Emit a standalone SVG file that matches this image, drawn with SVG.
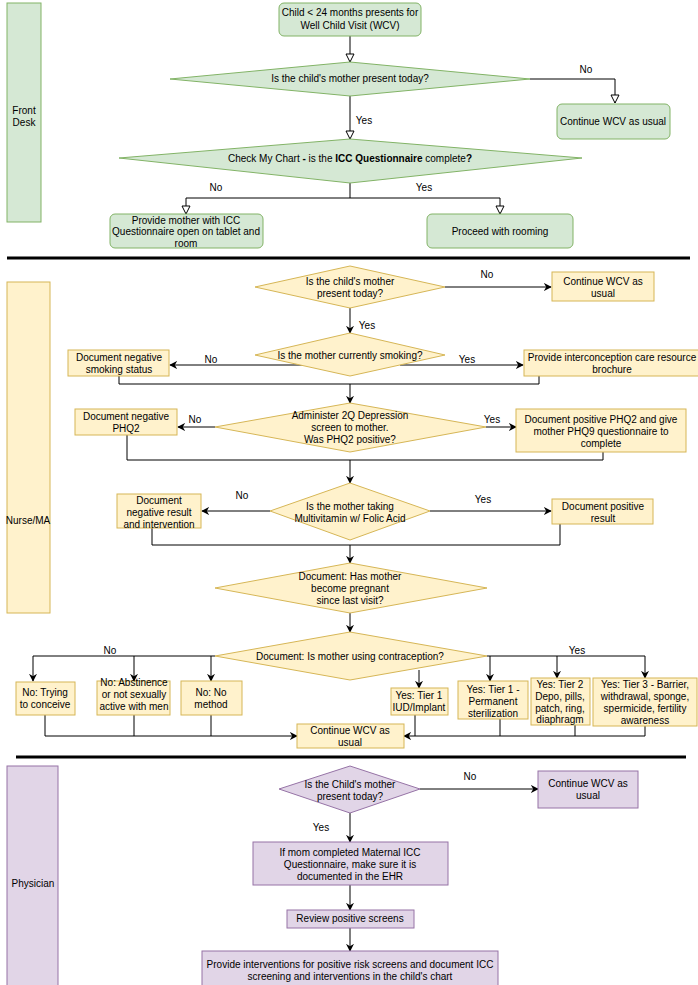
<svg xmlns="http://www.w3.org/2000/svg" width="698" height="985" viewBox="0 0 698 985">
<style>
text{font-family:"Liberation Sans",Arial,sans-serif;font-size:10px;fill:#000;text-anchor:middle}
.g{fill:#d5e8d4;stroke:#82b366}
.y{fill:#fff2cc;stroke:#d6b656}
.p{fill:#e1d5e7;stroke:#9673a6}
.c{fill:none;stroke:#000;stroke-width:1}
.o{marker-end:url(#open)}
.f{marker-end:url(#fill)}
.sep{stroke:#000;stroke-width:3}
</style>
<defs>
<marker id="open" viewBox="0 0 10 10" refX="9" refY="5" markerWidth="10" markerHeight="10" markerUnits="userSpaceOnUse" orient="auto"><path d="M1,1 L9,5 L1,9 Z" fill="#fff" stroke="#000"/></marker>
<marker id="fill" viewBox="0 0 10 10" refX="9" refY="5" markerWidth="8" markerHeight="8" markerUnits="userSpaceOnUse" orient="auto"><path d="M0,0 L10,5 L0,10 L3,5 Z" fill="#000"/></marker>
</defs>
<rect width="698" height="985" fill="#fff"/>
<g id="lanes">
<g id="lane-front"><rect class="g" x="7" y="3" width="34" height="219"/><text x="24" y="114">Front</text><text x="24" y="126">Desk</text></g>
<g id="lane-nurse"><rect class="y" x="7" y="282" width="43" height="331"/><text x="28" y="524">Nurse/MA</text></g>
<g id="lane-phys"><rect class="p" x="7" y="766" width="51" height="222"/><text x="33" y="887">Physician</text></g>
<line class="sep" x1="7" y1="258" x2="690" y2="258"/>
<line class="sep" x1="16" y1="757" x2="686" y2="757"/>
</g>
<g id="connectors">
<path class="c o" d="M350,36 V62"/>
<path class="c o" d="M530,79 H615 V103"/><text x="586" y="73">No</text>
<path class="c o" d="M350,96 V139"/><text x="364" y="124">Yes</text>
<path class="c o" d="M350,183 V198 H186 V214"/><path class="c o" d="M350,198 H500 V214"/>
<text x="216" y="191">No</text><text x="424" y="191">Yes</text>
<path class="c f" d="M445,287 H551"/><text x="487" y="278">No</text>
<path class="c f" d="M350,308 V333"/><text x="367" y="329">Yes</text>
<path class="c f" d="M303,365 H170"/><text x="211" y="363">No</text>
<path class="c f" d="M400,365 H523"/><text x="467" y="363">Yes</text>
<path class="c" d="M119,376 V384 H539 V376"/><path class="c f" d="M350,384 V403"/>
<path class="c f" d="M215,427 H178"/><text x="195" y="423">No</text>
<path class="c f" d="M486,427 H516"/><text x="492" y="423">Yes</text>
<path class="c" d="M127,435 V460 H603 V452"/><path class="c f" d="M350,460 V483"/>
<path class="c f" d="M270,511 H202"/><text x="242" y="499">No</text>
<path class="c f" d="M430,511 H551"/><text x="483" y="503">Yes</text>
<path class="c" d="M152,528 V545 H560 V524"/><path class="c f" d="M350,545 V563"/>
<path class="c f" d="M350,613 V632"/>
<path class="c" d="M215,656 H33"/><path class="c f" d="M33,656 V681"/><path class="c f" d="M134,656 V681"/><path class="c f" d="M211,656 V681"/>
<text x="110" y="654">No</text>
<path class="c" d="M487,656 H645"/><path class="c f" d="M490,656 V681"/><path class="c f" d="M557,656 V678"/><path class="c f" d="M645,656 V678"/>
<text x="577" y="654">Yes</text>
<path class="c f" d="M419,670 V688"/>
<path class="c" d="M45,715 V736 H211 V715 M134,715 V736"/><path class="c f" d="M211,736 H297"/>
<path class="c" d="M415,715 V736 H645 V726 M500,719 V736 M575,725 V736"/><path class="c f" d="M415,736 H404"/>
<path class="c f" d="M420,789 H538"/><text x="470" y="780">No</text>
<path class="c f" d="M350,813 V842"/><text x="321" y="831">Yes</text>
<path class="c f" d="M350,885 V910"/>
<path class="c f" d="M350,928 V951"/>
</g>
<g id="n1"><rect class="g" x="279" y="3" width="142" height="33" rx="5"/><text x="350" y="16">Child &lt; 24 months presents for</text><text x="350" y="29">Well Child Visit (WCV)</text></g>
<g id="n2"><path class="g" d="M170,79 L350,62 L530,79 L350,96 Z"/><text x="350" y="82">Is the child's mother present today?</text></g>
<g id="n3"><rect class="g" x="557" y="104" width="113" height="35" rx="5"/><text x="613" y="125">Continue WCV as usual</text></g>
<g id="n4"><path class="g" d="M119,158 L350,139 L582,158 L350,183 Z"/><text x="350" y="162">Check My Chart <tspan font-weight="bold">-</tspan> is the <tspan font-weight="bold">ICC Questionnaire</tspan> complete<tspan font-weight="bold">?</tspan></text></g>
<g id="n5"><rect class="g" x="110" y="214" width="153" height="34" rx="5"/><text x="186" y="224">Provide mother with ICC</text><text x="186" y="235">Questionnaire open on tablet and</text><text x="186" y="247">room</text></g>
<g id="n6"><rect class="g" x="427" y="214" width="146" height="34" rx="5"/><text x="500" y="235">Proceed with rooming</text></g>
<g id="m1"><path class="y" d="M255,287 L350,266 L445,287 L350,308 Z"/><text x="350" y="285">Is the child's mother</text><text x="350" y="297">present today?</text></g>
<g id="m2"><rect class="y" x="552" y="272" width="102" height="29"/><text x="603" y="285">Continue WCV as</text><text x="603" y="297">usual</text></g>
<g id="m3"><path class="y" d="M255,355 L350,333 L445,355 L350,376 Z"/><text x="350" y="359">Is the mother currently smoking?</text></g>
<g id="m4"><rect class="y" x="68" y="350" width="101" height="26"/><text x="119" y="361">Document negative</text><text x="119" y="373">smoking status</text></g>
<g id="m5"><rect class="y" x="524" y="350" width="176" height="26"/><text x="612" y="361">Provide interconception care resource</text><text x="612" y="373">brochure</text></g>
<g id="m6"><path class="y" d="M215,427 L350,403 L486,427 L350,452 Z"/><text x="350" y="419">Administer 2Q Depression</text><text x="350" y="431">screen to mother.</text><text x="350" y="443">Was PHQ2 positive?</text></g>
<g id="m7"><rect class="y" x="75" y="409" width="102" height="26"/><text x="126" y="420">Document negative</text><text x="126" y="432">PHQ2</text></g>
<g id="m8"><rect class="y" x="516" y="409" width="170" height="43"/><text x="601" y="423">Document positive PHQ2 and give</text><text x="601" y="435">mother PHQ9 questionnaire to</text><text x="601" y="447">complete</text></g>
<g id="m9"><path class="y" d="M270,511 L350,483 L430,511 L350,540 Z"/><text x="350" y="510">Is the mother taking</text><text x="350" y="522">Multivitamin w/ Folic Acid</text></g>
<g id="m10"><rect class="y" x="117" y="494" width="84" height="34"/><text x="159" y="504">Document</text><text x="159" y="516">negative result</text><text x="159" y="528">and intervention</text></g>
<g id="m11"><rect class="y" x="552" y="499" width="101" height="25"/><text x="603" y="510">Document positive</text><text x="603" y="522">result</text></g>
<g id="m12"><path class="y" d="M215,588 L350,563 L487,588 L350,613 Z"/><text x="350" y="580">Document: Has mother</text><text x="350" y="592">become pregnant</text><text x="350" y="604">since last visit?</text></g>
<g id="m13"><path class="y" d="M215,656 L350,632 L487,656 L350,680 Z"/><text x="350" y="660">Document: Is mother using contraception?</text></g>
<g id="m14"><rect class="y" x="16" y="682" width="59" height="33"/><text x="45" y="696">No: Trying</text><text x="45" y="708">to conceive</text></g>
<g id="m15"><rect class="y" x="97" y="681" width="73" height="34"/><text x="134" y="686" dy="0">No: Abstinence</text><text x="134" y="698" dy="0">or not sexually</text><text x="134" y="710">active with men</text></g>
<g id="m16"><rect class="y" x="181" y="681" width="61" height="34"/><text x="211" y="696">No: No</text><text x="211" y="708">method</text></g>
<g id="m17"><rect class="y" x="391" y="688" width="57" height="27"/><text x="419" y="699">Yes: Tier 1</text><text x="419" y="711">IUD/Implant</text></g>
<g id="m18"><rect class="y" x="458" y="681" width="70" height="38"/><text x="493" y="693">Yes: Tier 1 -</text><text x="493" y="705">Permanent</text><text x="493" y="717">sterilization</text></g>
<g id="m19"><rect class="y" x="531" y="678" width="59" height="47"/><text x="560" y="688">Yes: Tier 2</text><text x="560" y="700">Depo, pills,</text><text x="560" y="712">patch, ring,</text><text x="560" y="723">diaphragm</text></g>
<g id="m20"><rect class="y" x="593" y="678" width="104" height="48"/><text x="645" y="688">Yes: Tier 3 - Barrier,</text><text x="645" y="700">withdrawal, sponge,</text><text x="645" y="712">spermicide, fertility</text><text x="645" y="724">awareness</text></g>
<g id="m21"><rect class="y" x="297" y="724" width="107" height="24"/><text x="350" y="734">Continue WCV as</text><text x="350" y="746">usual</text></g>
<g id="p1"><path class="p" d="M279,789 L350,766 L420,789 L350,813 Z"/><text x="350" y="788">Is the Child's mother</text><text x="350" y="800">present today?</text></g>
<g id="p2"><rect class="p" x="538" y="771" width="100" height="37"/><text x="588" y="787">Continue WCV as</text><text x="588" y="799">usual</text></g>
<g id="p3"><rect class="p" x="253" y="842" width="195" height="43"/><text x="350" y="856">If mom completed Maternal ICC</text><text x="350" y="868">Questionnaire, make sure it is</text><text x="350" y="880">documented in the EHR</text></g>
<g id="p4"><rect class="p" x="287" y="910" width="127" height="18"/><text x="350" y="922">Review positive screens</text></g>
<g id="p5"><rect class="p" x="202" y="951" width="296" height="36"/><text x="350" y="968">Provide interventions for positive risk screens and document ICC</text><text x="350" y="980">screening and interventions in the child's chart</text></g>
</svg>
